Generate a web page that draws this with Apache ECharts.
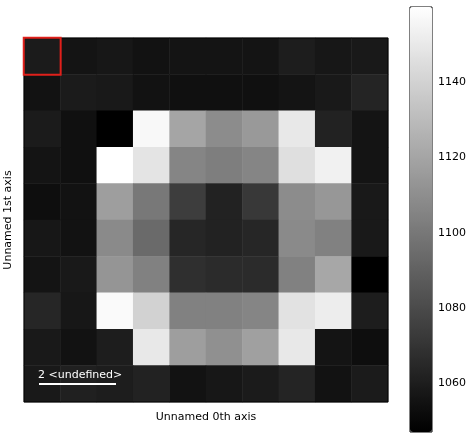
<!DOCTYPE html>
<html>
<head>
<meta charset="utf-8">
<script src="https://cdn.jsdelivr.net/npm/echarts@6/dist/echarts.min.js"></script>
<style>html,body{margin:0;padding:0;background:#fff}#chart{width:474px;height:440px}</style>
</head>
<body>
<div id="chart"></div>
<script>
const xLabels = ["0", "1", "2", "3", "4", "5", "6", "7", "8", "9"];
const yLabels = ["0", "1", "2", "3", "4", "5", "6", "7", "8", "9"];
const rows = [
  [1059, 1056, 1057, 1055, 1056, 1056, 1056, 1060, 1057, 1058],
  [1055, 1059, 1058, 1055, 1054, 1054, 1054, 1056, 1058, 1063],
  [1059, 1054, 1047, 1157, 1120, 1109, 1115, 1150, 1062, 1056],
  [1056, 1054, 1160, 1148, 1106, 1103, 1106, 1146, 1154, 1056],
  [1053, 1055, 1117, 1100, 1074, 1062, 1072, 1109, 1114, 1058],
  [1057, 1055, 1108, 1094, 1064, 1062, 1064, 1108, 1104, 1058],
  [1056, 1058, 1113, 1104, 1068, 1066, 1066, 1104, 1121, 1047],
  [1064, 1057, 1158, 1140, 1104, 1104, 1106, 1147, 1152, 1060],
  [1058, 1055, 1060, 1150, 1117, 1111, 1118, 1150, 1056, 1053],
  [1058, 1061, 1060, 1062, 1055, 1057, 1059, 1063, 1055, 1059]
];
const colorbarTicks = [1060, 1080, 1100, 1120, 1140];
const vMin = 1047, vMax = 1160;

const data = [];
rows.forEach((row, y) => row.forEach((v, x) => data.push([x, y, v])));

const chart = echarts.init(document.getElementById("chart"));
chart.setOption({
  animation: false,
  textStyle: { fontFamily: "DejaVu Sans" },
  grid: [
    { left: 24, top: 38, width: 364, height: 364, outerBoundsMode: "none", containLabel: false,
      show: true, borderColor: "#000", borderWidth: 1, z: 5 },
    { left: 410, top: 7, width: 22, height: 425, outerBoundsMode: "none", containLabel: false,
      show: true, borderColor: "#000", borderWidth: 1, backgroundColor: "transparent" }
  ],
  xAxis: [
    { type: "category", data: xLabels, gridIndex: 0, name: "Unnamed 0th axis", nameLocation: "middle", nameGap: 10,
      nameTextStyle: { fontSize: 11, color: "#000" },
      axisLine: { show: false }, axisTick: { show: false }, axisLabel: { show: false }, splitLine: { show: false } },
    { type: "value", gridIndex: 1, show: false }
  ],
  yAxis: [
    { type: "category", data: yLabels, inverse: true, gridIndex: 0, name: "Unnamed 1st axis", nameLocation: "middle", nameGap: 10,
      nameTextStyle: { fontSize: 11, color: "#000" },
      axisLine: { show: false }, axisTick: { show: false }, axisLabel: { show: false }, splitLine: { show: false } },
    { type: "value", gridIndex: 1, position: "right", min: vMin, max: vMax,
      axisLine: { show: false }, splitLine: { show: false },
      axisTick: { show: true, length: 4, lineStyle: { color: "#000" }, customValues: colorbarTicks },
      axisLabel: { fontSize: 11, color: "#000", margin: 6, customValues: colorbarTicks, formatter: (v) => String(v) } }
  ],
  visualMap: {
    type: "continuous", min: vMin, max: vMax, seriesIndex: 0,
    left: 410, top: 7, itemWidth: 22, itemHeight: 425, padding: 0,
    calculable: false, showLabel: false, text: null, textGap: 0,
    inRange: { color: ["#000000", "#ffffff"] }
  },
  series: [
    { type: "heatmap", data: data, xAxisIndex: 0, yAxisIndex: 0 },
    { type: "heatmap", data: [[0, 0, 0]], xAxisIndex: 0, yAxisIndex: 0, z: 10,
      itemStyle: { color: "rgba(0,0,0,0)", borderColor: "#e0201b", borderWidth: 2 } }
  ],
  graphic: [
    { type: "text", left: 38, top: 370, style: { text: "2 <undefined>", fill: "#fff", fontSize: 11, fontFamily: "DejaVu Sans" }, z: 20 },
    { type: "line", shape: { x1: 39, y1: 384, x2: 116, y2: 384 }, style: { stroke: "#fff", lineWidth: 2 }, z: 20 }
  ]
});
</script>
</body>
</html>
